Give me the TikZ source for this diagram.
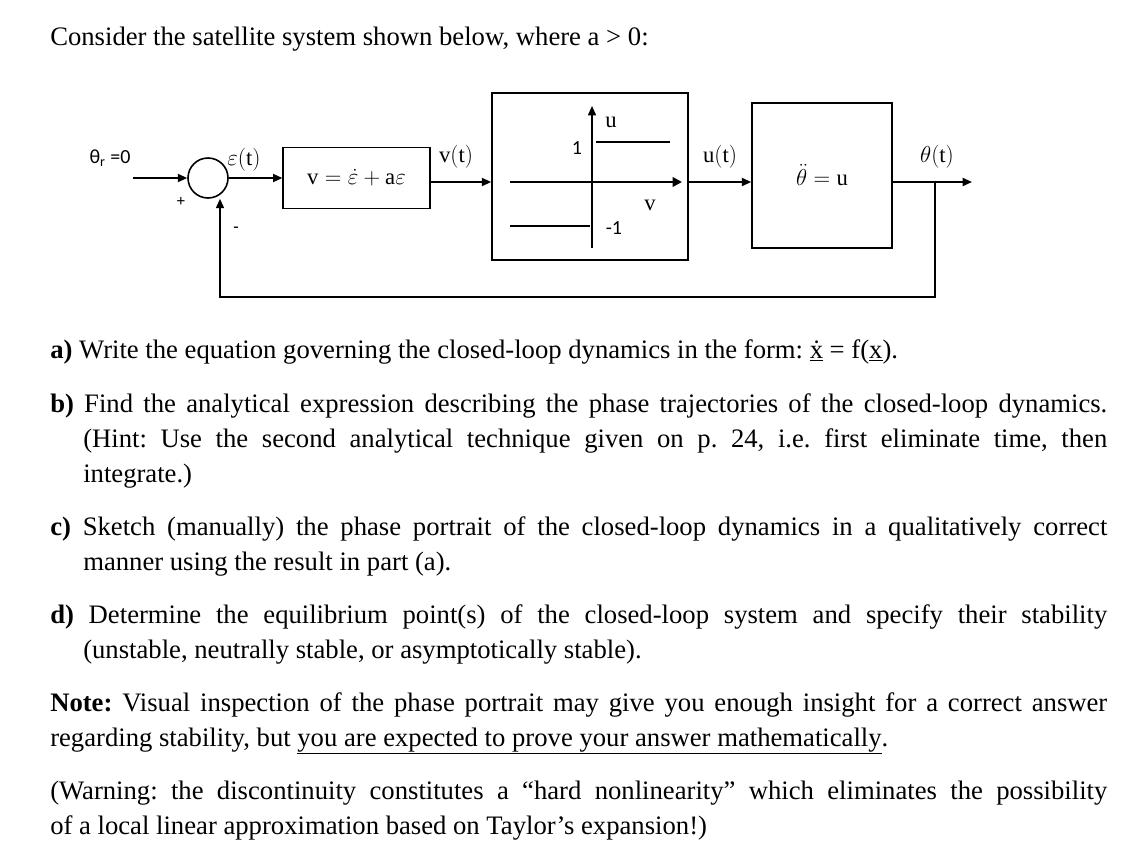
\documentclass[tikz,border=0pt]{standalone}
\usepackage{fontspec}
\setmainfont{Liberation Serif}
\newfontfamily\carl{Carlito}
\usetikzlibrary{arrows.meta}
\begin{document}
\frenchspacing
\begin{tikzpicture}[x=0.75pt,y=-0.75pt,
  blk/.style={draw,line width=1.2pt,font=\fontsize{17}{19}\selectfont},
  sig/.style={line width=1.3pt,-{Triangle[length=7pt,width=6pt]}},
  lbl/.style={font=\fontsize{17}{19}\selectfont,inner sep=0},
  slbl/.style={font=\carl\fontsize{15}{17}\selectfont,inner sep=0},
  txt/.style={anchor=base west,inner sep=0,font=\fontsize{20}{24}\selectfont}]
\useasboundingbox (0,0) rectangle (1124,864);
\node[txt] (t0) at (50,45) {Consider the satellite system shown below, where a > 0:};
% diagram
\coordinate (in) at (133,178);
\node[draw,line width=1.2pt,circle,minimum size=30pt,inner sep=0] (sum) at (208,178) {};
\node[blk,minimum width=110pt,minimum height=46pt,inner sep=0] (b1) at (356.5,178) {$\mathrm{v}=\dot\varepsilon+\mathrm{a}\varepsilon$};
\node[blk,minimum width=147pt,minimum height=125pt,inner sep=0] (b2) at (590,176.5) {};
\node[blk,minimum width=105pt,minimum height=109pt,inner sep=0] (b3) at (822,175.5) {$\ddot\theta=\mathrm{u}$};
\coordinate (out) at (972,182);
\coordinate (tap) at (935,182);
\coordinate (fb1) at (935,297);
\coordinate (fb2) at (220,297);
\draw[sig] (in) -- (sum.west);
\draw[sig] (sum.east) -- (b1.west);
\draw[sig] (b1.east |- 0,182) -- (b2.west |- 0,182);
\draw[sig] (b2.east |- 0,182) -- (b3.west |- 0,182);
\draw[sig] (b3.east |- 0,182) -- (out);
\draw[sig,line width=1.2pt] (tap) -- (fb1) -- (fb2) -- (sum.south -| fb2);
% nonlinearity
\coordinate (ax1) at (510,182); \coordinate (ax2) at (682,182);
\coordinate (ay1) at (592,248); \coordinate (ay2) at (592,106);
\draw[line width=2pt,-{Triangle[length=7pt,width=7pt]}] (ax1) -- (ax2);
\draw[line width=1.2pt,-{Triangle[length=7pt,width=6pt]}] (ay1) -- (ay2);
\draw[line width=1.2pt] (596,142) -- (670,142);
\draw[line width=1.2pt] (510,226) -- (590,226);
\node[lbl] (lu) at (611,122) {$\mathrm{u}$};
\node[slbl] (l1) at (577,148) {1};
\node[slbl] (lm1) at (614,228) {-1};
\node[lbl] (lv) at (650,205) {$\mathrm{v}$};
% labels
\node[slbl] (lth) at (110,158) {θ\textsubscript{r} =0};
\node[lbl] (le) at (244,160) {$\varepsilon(\mathrm{t})$};
\node[lbl] (lvt) at (456,157) {$\mathrm{v(t)}$};
\node[lbl] (lut) at (720,157) {$\mathrm{u(t)}$};
\node[lbl] (lo) at (937,157) {$\theta(\mathrm{t})$};
\node[slbl,font=\bfseries\large] (lp) at (181,202) {+};
\node[slbl,font=\bfseries\large] (lmn) at (236,229) {-};
% text
\node[txt] (a) at (50,358) {\textbf{a)} Write the equation governing the closed-loop dynamics in the form: \underline{\.x} = f(\underline{x}).};
\node[txt] (b) at (50,412) {\hbox to 792.75pt{\textbf{b)} Find the analytical expression describing the phase trajectories of the closed-loop dynamics.}};
\node[txt] (b2t) at (83,447) {\hbox to 768pt{(Hint: Use the second analytical technique given on p. 24, i.e. first eliminate time, then}};
\node[txt] (b3t) at (83,482) {integrate.)};
\node[txt] (c) at (50,535) {\hbox to 792.75pt{\textbf{c)} Sketch (manually) the phase portrait of the closed-loop dynamics in a qualitatively correct}};
\node[txt] (c2) at (83,570) {manner using the result in part (a).};
\node[txt] (d) at (50,623) {\hbox to 792.75pt{\textbf{d)} Determine the equilibrium point(s) of the closed-loop system and specify their stability}};
\node[txt] (d2) at (83,658) {(unstable, neutrally stable, or asymptotically stable).};
\node[txt] (n) at (50,711) {\hbox to 792.75pt{\textbf{Note:} Visual inspection of the phase portrait may give you enough insight for a correct answer}};
\node[txt] (n2) at (50,746) {regarding stability, but \underline{you are expected to prove your answer mathematically}.};
\node[txt] (w) at (50,799) {\hbox to 792.75pt{(Warning: the discontinuity constitutes a “hard nonlinearity” which eliminates the possibility}};
\node[txt] (w2) at (50,834) {of a local linear approximation based on Taylor’s expansion!)};
\end{tikzpicture}
\end{document}
